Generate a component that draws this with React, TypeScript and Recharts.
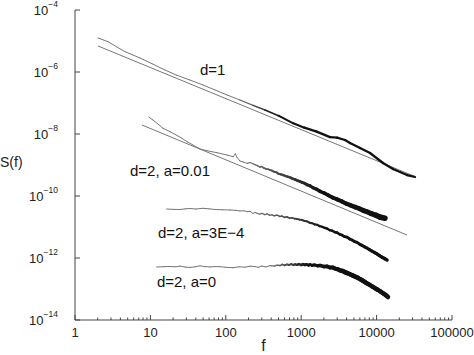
import React from 'react';
import { LineChart, Line, XAxis, YAxis, ReferenceDot, Label } from 'recharts';

const FONT = '"Liberation Sans", Arial, Helvetica, sans-serif';
const AXIS = '#444';

// ---- ticks ----
const xMajorTicks = [1, 10, 100, 1000, 10000, 100000];
const xTickLabels = ['1', '10', '100', '1000', '10000', '100000'];
const xMinorMultipliers = [2, 3, 4, 5, 6, 7, 8, 9];
const yMajorTicks = [1e-14, 1e-12, 1e-10, 1e-8, 1e-6, 1e-4];
const yTickExponents = ['\u221214', '\u221212', '\u221210', '\u22128', '\u22126', '\u22124'];

// ---- series: [f, S(f)] ----
const d1Low = [
  [2.02, 1.25e-5], [2.74, 9.5e-6], [4.6, 4.52e-6], [7.28, 2.83e-6], [10.5, 1.85e-6],
  [15.6, 1.16e-6], [22, 8.0e-7], [33.5, 5.5e-7], [50, 3.8e-7], [71.9, 2.63e-7],
  [105, 1.8e-7], [154, 1.25e-7], [230, 8.4e-8], [331, 5.95e-8],
];
const d1High = [
  [500, 3.9e-8], [785, 2.21e-8], [1100, 1.6e-8], [1604, 1.19e-8],
  [2410, 7.9e-9], [2985, 7.6e-9], [3810, 6.4e-9], [4440, 5.1e-9], [6030, 3.53e-9],
  [8180, 2.44e-9], [12160, 1.16e-9], [16500, 7.4e-10], [25300, 4.75e-10], [32300, 4.1e-10],
];
const fit1 = [[2.02, 6.9e-6], [32300, 4.26e-10]];
const fit2 = [[7.74, 1.95e-8], [25300, 5.52e-12]];

const a1Low = [
  [9.58, 3.46e-8], [10.8, 2.83e-8], [12.6, 2.1e-8], [14.7, 1.53e-8], [18.2, 1.19e-8],
  [23.2, 8.6e-9], [26.2, 7.26e-9], [30.6, 5.65e-9], [36.7, 4.42e-9], [45.5, 3.28e-9],
  [56.3, 2.89e-9], [76.4, 2.49e-9], [104, 2.1e-9], [125, 1.85e-9], [134, 2.3e-9],
  [140, 1.8e-9], [154, 1.35e-9], [170, 1.25e-9], [191, 1.13e-9], [210, 1.2e-9],
  [229, 1.1e-9],
];
const a1Mid = [
  [245, 1.02e-9], [262, 9.6e-10], [284, 8.6e-10], [300, 8.9e-10],
  [320, 8.0e-10], [340, 7.5e-10], [365, 7.3e-10], [390, 6.8e-10], [410, 6.6e-10],
  [440, 6.0e-10], [470, 5.8e-10], [500, 5.2e-10], [540, 5.0e-10], [580, 4.7e-10],
  [620, 4.4e-10], [660, 4.2e-10], [720, 3.9e-10], [770, 3.6e-10], [830, 3.4e-10],
  [900, 3.1e-10], [964, 2.95e-10], [1040, 2.7e-10], [1120, 2.55e-10], [1194, 2.3e-10],
  [1300, 2.15e-10], [1433, 1.85e-10], [1600, 1.65e-10], [1774, 1.42e-10],
];
const a1High = [
  [2000, 1.25e-10], [2300, 1.05e-10], [2641, 8.8e-11], [3000, 7.8e-11],
  [3500, 6.6e-11], [4000, 5.6e-11], [4440, 5.1e-11], [5200, 4.4e-11], [6000, 3.85e-11],
  [6800, 3.35e-11], [7460, 3.1e-11], [8500, 2.7e-11], [9800, 2.4e-11], [11000, 2.1e-11],
  [12900, 1.91e-11],
];

const a2Low = [
  [16.4, 3.81e-11], [20, 3.7e-11], [24.7, 3.67e-11], [29, 3.85e-11], [33.5, 3.95e-11],
  [40, 3.8e-11], [49.9, 4.01e-11], [60, 3.85e-11], [71.9, 3.67e-11], [90, 3.6e-11],
  [114, 3.53e-11], [135, 3.45e-11], [154, 3.28e-11], [175, 3.35e-11], [191, 3.12e-11],
  [210, 3.2e-11], [229, 2.75e-11], [245, 2.95e-11], [259, 2.8e-11],
];
const a2Mid = [
  [280, 2.6e-11], [302, 2.75e-11], [330, 2.5e-11], [352, 2.65e-11],
  [380, 2.4e-11], [410, 2.45e-11], [440, 2.3e-11], [478, 2.42e-11], [520, 2.2e-11],
  [556, 2.25e-11], [600, 2.05e-11], [648, 2.12e-11], [700, 1.95e-11], [755, 1.98e-11],
  [820, 1.85e-11], [880, 1.82e-11], [950, 1.72e-11], [1025, 1.68e-11], [1110, 1.56e-11],
  [1194, 1.52e-11], [1290, 1.38e-11], [1390, 1.33e-11], [1500, 1.22e-11], [1622, 1.18e-11],
  [1750, 1.07e-11], [1888, 1.02e-11],
];
const a2High = [
  [2050, 9.4e-12], [2198, 8.9e-12], [2400, 7.9e-12], [2560, 7.6e-12],
  [2800, 6.8e-12], [2985, 6.6e-12], [3250, 5.8e-12], [3475, 5.5e-12], [3750, 4.9e-12],
  [4050, 4.7e-12], [4400, 4.1e-12], [4720, 3.8e-12], [5100, 3.4e-12], [5500, 3.2e-12],
  [5950, 2.8e-12], [6400, 2.55e-12], [6900, 2.3e-12], [7460, 2.1e-12], [8050, 1.85e-12],
  [8690, 1.66e-12], [9400, 1.5e-12], [10120, 1.36e-12], [10900, 1.2e-12], [11800, 1.06e-12],
  [12700, 9.6e-13], [13740, 8.6e-13],
];

const a3Low = [
  [12.1, 5.13e-13], [15, 5.25e-13], [18.2, 5.32e-13], [21, 5.2e-13], [24.7, 5.45e-13],
  [29, 5.1e-13], [33.5, 4.94e-13], [39, 5.2e-13], [45.5, 5.6e-13], [52, 5.3e-13],
  [61.7, 5.13e-13], [72, 5.3e-13], [83.8, 5.25e-13], [100, 5.0e-13], [125, 4.87e-13],
  [150, 5.2e-13], [180, 5.05e-13], [210, 5.45e-13], [244, 5.3e-13], [270, 5.0e-13],
  [302, 5.5e-13], [340, 5.15e-13], [386, 5.7e-13], [440, 5.45e-13],
];
const a3Mid = [
  [480, 5.9e-13], [524, 5.7e-13], [560, 6.2e-13], [600, 5.8e-13],
  [648, 6.2e-13], [690, 5.95e-13], [740, 6.35e-13], [790, 5.95e-13], [827, 6.25e-13],
  [880, 6.0e-13], [930, 6.35e-13], [1000, 5.95e-13], [1057, 6.3e-13], [1120, 6.0e-13],
  [1180, 6.2e-13], [1250, 5.85e-13], [1309, 6.1e-13], [1400, 5.8e-13], [1500, 5.95e-13],
  [1650, 5.6e-13], [1774, 5.75e-13], [2000, 5.3e-13],
];
const a3High = [
  [2200, 5.35e-13], [2400, 4.95e-13], [2641, 4.9e-13], [2850, 4.5e-13],
  [3050, 4.35e-13], [3270, 4.0e-13], [3550, 3.8e-13], [3800, 3.5e-13], [4100, 3.25e-13],
  [4440, 3.0e-13], [4800, 2.75e-13], [5200, 2.5e-13], [5660, 2.28e-13], [6100, 2.05e-13],
  [6500, 1.88e-13], [7000, 1.68e-13], [7460, 1.52e-13], [8000, 1.38e-13], [8700, 1.22e-13],
  [9530, 1.06e-13], [10300, 9.5e-14], [11200, 8.4e-14], [12160, 7.3e-14], [13200, 6.4e-14],
  [14170, 5.5e-14],
];

// ---- curve labels: [text, f, S] anchor (baseline-left) ----
const curveLabels: [string, number, number][] = [
  ['d=1', 45.5, 8.0e-7],
  ['d=2, a=0.01', 5.36, 4.3e-10],
  ['d=2, a=3E\u22124', 12.6, 4.42e-12],
  ['d=2, a=0', 12.2, 1.16e-13],
];

// ---- styling of the measured curves: thin grey at low f, dense black band at high f ----
type Curve = { data: number[][]; rampFrom: number; rampTo: number; maxWidth: number };
const curves: Curve[] = [
  { data: [...d1Low, ...d1High], rampFrom: 150, rampTo: 1200, maxWidth: 2.3 },
  { data: [...a1Low, ...a1Mid, ...a1High], rampFrom: 180, rampTo: 12000, maxWidth: 5.5 },
  { data: [...a2Low, ...a2Mid, ...a2High], rampFrom: 230, rampTo: 13000, maxWidth: 3.4 },
  { data: [...a3Low, ...a3Mid, ...a3High], rampFrom: 380, rampTo: 3500, maxWidth: 4.5 },
];

const toPts = (arr: number[][]) => arr.map(([f, s]) => ({ f, s }));

const rampT = (f: number, c: Curve) => {
  const t = (Math.log10(f) - Math.log10(c.rampFrom)) / (Math.log10(c.rampTo) - Math.log10(c.rampFrom));
  return Math.max(0, Math.min(1, t));
};
const grey = (t: number) => {
  const v = Math.round(0x77 + (0x11 - 0x77) * Math.min(1, t * 1.8));
  const h = v.toString(16).padStart(2, '0');
  return `#${h}${h}${h}`;
};

const xTicks = [
  ...xMajorTicks,
  ...xMajorTicks.slice(0, -1).flatMap((d) => xMinorMultipliers.map((m) => d * m)),
].sort((a, b) => a - b);

const isMajor = (v: number) => Math.abs(Math.log10(v) - Math.round(Math.log10(v))) < 1e-6;
const xLabelOf = (v: number) => {
  const i = xMajorTicks.findIndex((t) => Math.abs(Math.log10(t) - Math.log10(v)) < 1e-6);
  return i >= 0 ? xTickLabels[i] : '';
};
const yExpOf = (v: number) => {
  const i = yMajorTicks.findIndex((t) => Math.abs(Math.log10(t) - Math.log10(v)) < 1e-6);
  return i >= 0 ? yTickExponents[i] : '';
};

const BottomTick = (props: any) => {
  const { x, y, payload } = props;
  const major = isMajor(payload.value);
  return (
    <g>
      <line x1={x} x2={x} y1={y} y2={y - (major ? 5 : 2.5)} stroke={AXIS} strokeWidth={1} />
      {major && (
        <text x={x} y={y + 17} textAnchor="middle" fontSize={13} fontFamily={FONT} fill="#222">
          {xLabelOf(payload.value)}
        </text>
      )}
    </g>
  );
};

const TopTick = (props: any) => {
  const { x, y, payload } = props;
  const major = isMajor(payload.value);
  return <line x1={x} x2={x} y1={y} y2={y + (major ? 5 : 2.5)} stroke={AXIS} strokeWidth={1} />;
};

const LeftTick = (props: any) => {
  const { x, y, payload } = props;
  return (
    <g>
      <line x1={x} x2={x + 5} y1={y} y2={y} stroke={AXIS} strokeWidth={1} />
      <text x={x - 17} y={y + 5} textAnchor="end" fontFamily={FONT} fill="#222">
        <tspan fontSize={13}>10</tspan>
        <tspan fontSize={8.5} dy={-8}>{yExpOf(payload.value)}</tspan>
      </text>
    </g>
  );
};

const RightTick = (props: any) => {
  const { x, y } = props;
  return <line x1={x} x2={x - 5} y1={y} y2={y} stroke={AXIS} strokeWidth={1} />;
};

// split each curve into consecutive 2-point segments so the stroke can thicken with f
const segments = curves.flatMap((c, ci) =>
  c.data.slice(1).map((p, i) => {
    const a = c.data[i];
    const fm = Math.sqrt(a[0] * p[0]);
    const t = rampT(fm, c);
    return {
      key: `c${ci}s${i}`,
      data: [a, p],
      width: 1 + (c.maxWidth - 1) * t,
      color: grey(t),
    };
  })
);

export default function App() {
  return (
    <div style={{ position: 'absolute', left: 0, top: 0, background: '#fff' }}>
      <LineChart width={474} height={355} margin={{ top: 10, right: 22, bottom: 5, left: 15 }}>
        <XAxis
          xAxisId="b"
          dataKey="f"
          type="number"
          scale="log"
          domain={[1, 100000]}
          allowDataOverflow
          ticks={xTicks}
          interval={0}
          tickSize={0}
          tickMargin={0}
          tickLine={false}
          tick={<BottomTick />}
          height={30}
          axisLine={{ stroke: AXIS }}
        >
          <Label
            content={(p: any) => (
              <text
                x={p.viewBox.x + p.viewBox.width / 2}
                y={p.viewBox.y + 31}
                textAnchor="middle"
                fontSize={16}
                fontFamily={FONT}
                fill="#222"
              >
                f
              </text>
            )}
          />
        </XAxis>
        <XAxis
          xAxisId="t"
          orientation="top"
          dataKey="f"
          type="number"
          scale="log"
          domain={[1, 100000]}
          allowDataOverflow
          ticks={xTicks}
          interval={0}
          tickSize={0}
          tickMargin={0}
          tickLine={false}
          tick={<TopTick />}
          height={0}
          axisLine={{ stroke: AXIS }}
        />
        <YAxis
          yAxisId="l"
          type="number"
          scale="log"
          domain={[1e-14, 1e-4]}
          allowDataOverflow
          ticks={yMajorTicks}
          interval={0}
          tickSize={0}
          tickMargin={0}
          tickLine={false}
          tick={<LeftTick />}
          width={60}
          axisLine={{ stroke: AXIS }}
        >
          <Label
            content={(p: any) => (
              <text
                x={p.viewBox.x - 15}
                y={p.viewBox.y + p.viewBox.height / 2 + 2}
                textAnchor="start"
                fontSize={14}
                fontFamily={FONT}
                fill="#222"
              >
                S(f)
              </text>
            )}
          />
        </YAxis>
        <YAxis
          yAxisId="r"
          orientation="right"
          type="number"
          scale="log"
          domain={[1e-14, 1e-4]}
          allowDataOverflow
          ticks={yMajorTicks}
          interval={0}
          tickSize={0}
          tickMargin={0}
          tickLine={false}
          tick={<RightTick />}
          width={0}
          axisLine={{ stroke: AXIS }}
        />
        {[fit1, fit2].map((d, i) => (
          <Line
            key={'fit' + i}
            xAxisId="b"
            yAxisId="l"
            data={toPts(d)}
            dataKey="s"
            type="linear"
            stroke="#777"
            strokeWidth={1}
            dot={false}
            activeDot={false}
            isAnimationActive={false}
          />
        ))}
        {segments.map((s) => (
          <Line
            key={s.key}
            xAxisId="b"
            yAxisId="l"
            data={toPts(s.data)}
            dataKey="s"
            type="linear"
            stroke={s.color}
            strokeWidth={s.width}
            strokeLinecap="round"
            dot={false}
            activeDot={false}
            isAnimationActive={false}
          />
        ))}
        {curveLabels.map(([text, f, s], i) => (
          <ReferenceDot
            key={'lab' + i}
            xAxisId="b"
            yAxisId="l"
            x={f}
            y={s}
            r={0}
            shape={(p: any) => (
              <text x={p.cx} y={p.cy} fontSize={15} fontFamily={FONT} fill="#111">
                {text}
              </text>
            )}
          />
        ))}
      </LineChart>
    </div>
  );
}
